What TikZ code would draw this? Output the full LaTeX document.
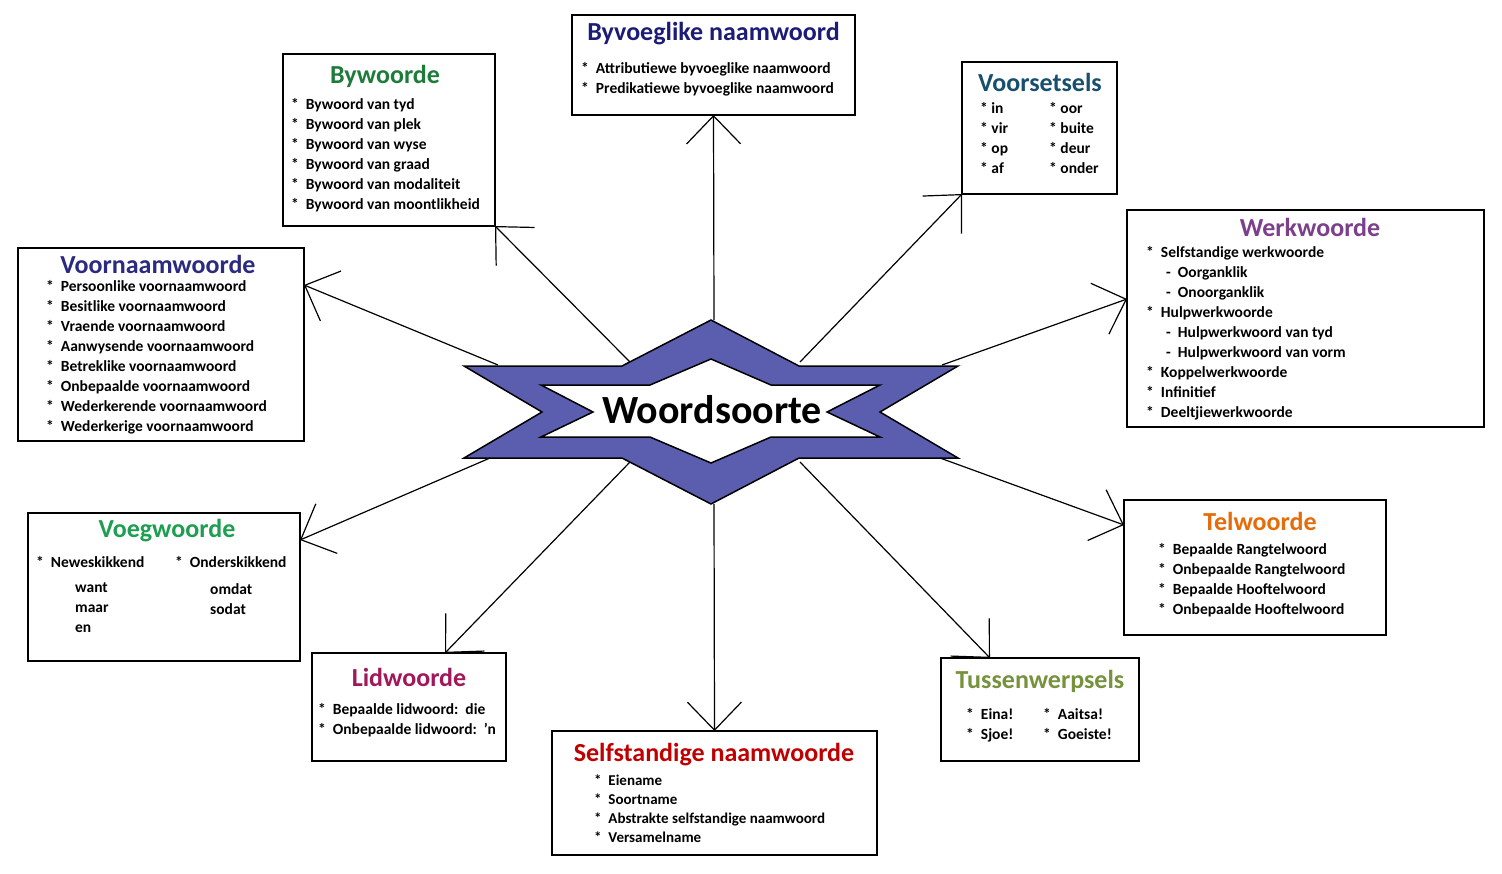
\documentclass[tikz,border=0pt]{standalone}
\usepackage{fontspec}
\setmainfont{Carlito}
\usetikzlibrary{arrows.meta}
\definecolor{starblue}{HTML}{5B5EAE}
\definecolor{cbyv}{HTML}{1C1C78}
\definecolor{cbyw}{HTML}{1E7B3A}
\definecolor{cvrs}{HTML}{17506E}
\definecolor{cvnw}{HTML}{2A2A80}
\definecolor{cwkw}{HTML}{7B3F8C}
\definecolor{cvgw}{HTML}{1E9E50}
\definecolor{ctlw}{HTML}{E46C0A}
\definecolor{clid}{HTML}{A0185A}
\definecolor{csfn}{HTML}{C00000}
\definecolor{ctsw}{HTML}{76923C}
\tikzstyle{box} = [rectangle, draw=black, line width=1.5pt, inner sep=0pt, outer sep=0pt]
\tikzstyle{title} = [font=\fontsize{26}{30}\selectfont\bfseries, inner sep=0pt]
\tikzstyle{body} = [font=\fontsize{15.5}{20}\selectfont\bfseries, align=left, anchor=north west, inner sep=0pt]
\tikzstyle{arrow} = [line width=1.2pt, -{Straight Barb[length=28pt,width=54pt]}]

\begin{document}
\begin{tikzpicture}[x=1pt, y=-1pt]
        \useasboundingbox (0,0) rectangle (1502,873);
        % centre star
        \path [fill=starblue, draw=black, line width=1.5pt, even odd rule]
          (464,366) -- (622,366) -- (711,320) -- (799,366) -- (958,366) -- (880,412) -- (958,458) -- (799,458) -- (711,504) -- (622,458) -- (464,458) -- (542,412) -- cycle
          (541,385) -- (650,385) -- (711,359) -- (771,385) -- (880,385) -- (827,412) -- (880,437) -- (771,437) -- (711,463) -- (650,437) -- (541,437) -- (593,412) -- cycle;
        \node (woord) [font=\fontsize{40}{46}\selectfont\bfseries, inner sep=0pt] at (712,410) {Woordsoorte};
        \coordinate (s1) at (714,320);
        \coordinate (s2) at (630,362);
        \coordinate (s3) at (800,362);
        \coordinate (s4) at (498,365);
        \coordinate (s5) at (942,365);
        \coordinate (s6) at (490,458);
        \coordinate (s7) at (940,458);
        \coordinate (s8) at (630,462);
        \coordinate (s9) at (800,462);
        \coordinate (s10) at (714,504);
        % boxes
        \node (byv) [box, minimum width=283pt, minimum height=100pt] at (713.5,65) {};
        \node (byw) [box, minimum width=212pt, minimum height=172pt] at (389,140) {};
        \node (vrs) [box, minimum width=155pt, minimum height=132pt] at (1039.5,128) {};
        \node (vnw) [box, minimum width=286pt, minimum height=193pt] at (161,344.5) {};
        \node (wkw) [box, minimum width=357pt, minimum height=217pt] at (1305.5,318.5) {};
        \node (vgw) [box, minimum width=272pt, minimum height=148pt] at (164,587) {};
        \node (tlw) [box, minimum width=262pt, minimum height=135pt] at (1255,567.5) {};
        \node (lid) [box, minimum width=194pt, minimum height=108pt] at (409,707) {};
        \node (sfn) [box, minimum width=325pt, minimum height=124pt] at (714.5,793) {};
        \node (tsw) [box, minimum width=198pt, minimum height=103pt] at (1040,709.5) {};
        % titles
        \node [title, text=cbyv] at (713.5,34) {Byvoeglike naamwoord};
        \node [title, text=cbyw] at (385,76) {Bywoorde};
        \node [title, text=cvrs] at (1040,82) {Voorsetsels};
        \node [title, text=cvnw] at (158,264) {Voornaamwoorde};
        \node [title, text=cwkw] at (1310,227) {Werkwoorde};
        \node [title, text=cvgw] at (167,531) {Voegwoorde};
        \node [title, text=ctlw] at (1260,521) {Telwoorde};
        \node [title, text=clid] at (409,677) {Lidwoorde};
        \node [title, text=csfn] at (714,755) {Selfstandige naamwoorde};
        \node [title, text=ctsw] at (1040,681) {Tussenwerpsels};
        % lists
        \node [body] at (581,62) {*\ \ Attributiewe byvoeglike naamwoord\\*\ \ Predikatiewe byvoeglike naamwoord};
        \node [body] at (291,98) {*\ \ Bywoord van tyd\\*\ \ Bywoord van plek\\*\ \ Bywoord van wyse\\*\ \ Bywoord van graad\\*\ \ Bywoord van modaliteit\\*\ \ Bywoord van moontlikheid};
        \node [body] at (980,102) {* in\\* vir\\* op\\* af};
        \node [body] at (1049,102) {* oor\\* buite\\* deur\\* onder};
        \node [body] at (46,280) {*\ \ Persoonlike voornaamwoord\\*\ \ Besitlike voornaamwoord\\*\ \ Vraende voornaamwoord\\*\ \ Aanwysende voornaamwoord\\*\ \ Betreklike voornaamwoord\\*\ \ Onbepaalde voornaamwoord\\*\ \ Wederkerende voornaamwoord\\*\ \ Wederkerige voornaamwoord};
        \node [body] at (1146,246) {*\ \ Selfstandige werkwoorde\\\hspace*{20pt}-\ \ Oorganklik\\\hspace*{20pt}-\ \ Onoorganklik\\*\ \ Hulpwerkwoorde\\\hspace*{20pt}-\ \ Hulpwerkwoord van tyd\\\hspace*{20pt}-\ \ Hulpwerkwoord van vorm\\*\ \ Koppelwerkwoorde\\*\ \ Infinitief\\*\ \ Deeltjiewerkwoorde};
        \node [body] at (36,556) {*\ \ Neweskikkend};
        \node [body] at (175,556) {*\ \ Onderskikkend};
        \node [body] at (75,583) {want\\maar\\en};
        \node [body] at (210,583) {omdat\\sodat};
        \node [body] at (1158,543) {*\ \ Bepaalde Rangtelwoord\\*\ \ Onbepaalde Rangtelwoord\\*\ \ Bepaalde Hooftelwoord\\*\ \ Onbepaalde Hooftelwoord};
        \node [body] at (318,703) {*\ \ Bepaalde lidwoord:\ \ die\\*\ \ Onbepaalde lidwoord:\ \ \symbol{39}n};
        \node [body, font=\fontsize{15}{19}\selectfont\bfseries] at (594,775) {*\ \ Eiename\\*\ \ Soortname\\*\ \ Abstrakte selfstandige naamwoord\\*\ \ Versamelname};
        \node [body] at (966,708) {*\ \ Eina!\\*\ \ Sjoe!};
        \node [body] at (1043,708) {*\ \ Aaitsa!\\*\ \ Goeiste!};
        % connectors
        \draw [arrow] (s1) -- (byv.south);
        \draw [arrow] (s2) -- (byw.south east);
        \draw [arrow] (s3) -- (vrs.south west);
        \draw [arrow] (s4) -- ([yshift=-37pt]vnw.north east);
        \draw [arrow] (s5) -- ([yshift=-89pt]wkw.north west);
        \draw [arrow] (s6) -- ([yshift=-27pt]vgw.north east);
        \draw [arrow] (s7) -- ([yshift=-25pt]tlw.north west);
        \draw [arrow] (s8) -- ([xshift=133pt]lid.north west);
        \draw [arrow] (s9) -- ([xshift=49pt]tsw.north west);
        \draw [arrow] (s10) -- (sfn.north);
\end{tikzpicture}
\end{document}
